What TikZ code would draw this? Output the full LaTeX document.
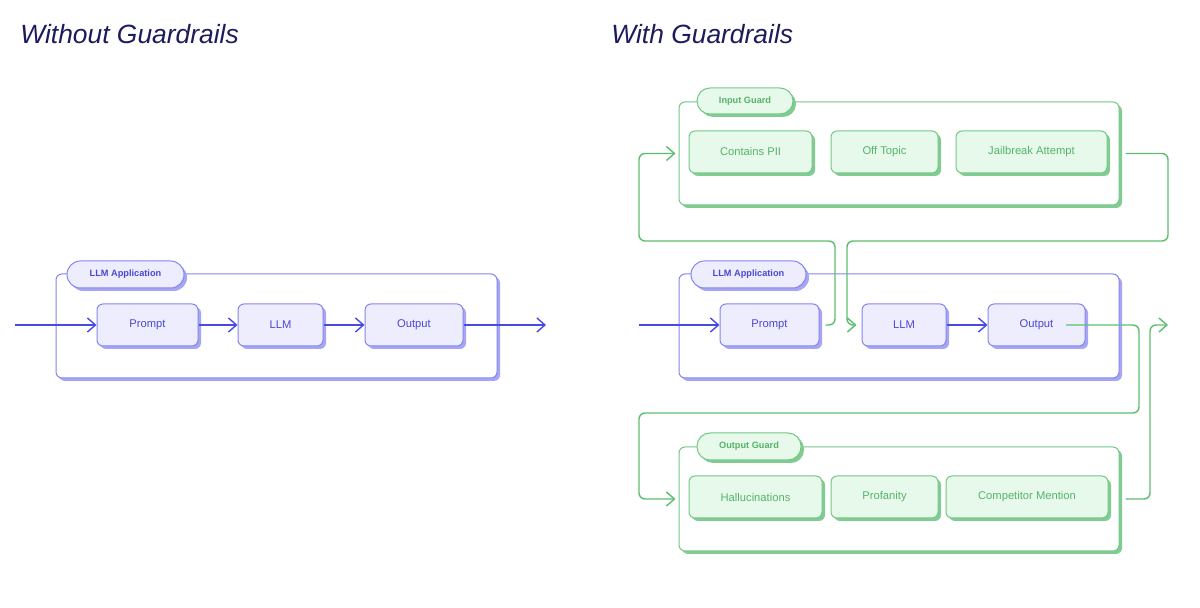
\documentclass[tikz,border=0pt]{standalone}
\usepackage{fontspec}
\setmainfont{Liberation Sans}
\usetikzlibrary{shadows,arrows.meta}
\definecolor{navy}{HTML}{1C1C5C}
\definecolor{pstroke}{HTML}{8585F0}
\definecolor{pfill}{HTML}{EDEDFD}
\definecolor{pshadow}{HTML}{A6A6F4}
\definecolor{ptext}{HTML}{4848D4}
\definecolor{parr}{HTML}{4A4AE2}
\definecolor{gstroke}{HTML}{74C886}
\definecolor{gfill}{HTML}{E6F9EA}
\definecolor{gshadow}{HTML}{82CC94}
\definecolor{gtext}{HTML}{55B46A}
\definecolor{garr}{HTML}{5EBE70}
\begin{document}
\begin{tikzpicture}[x=0.5pt,y=-0.5pt,
  title/.style={font=\fontsize{13.2}{15}\selectfont\itshape, text=navy, inner sep=0pt, anchor=base west},
  pshad/.style={general shadow={fill=pshadow, shadow xshift=1.5pt, shadow yshift=-1.5pt}},
  gshad/.style={general shadow={fill=gshadow, shadow xshift=1.5pt, shadow yshift=-1.5pt}},
  pcont/.style={draw=pstroke, fill=white, line width=0.5pt, rounded corners=3pt, inner sep=0pt, pshad},
  gcont/.style={draw=gstroke, fill=white, line width=0.5pt, rounded corners=3pt, inner sep=0pt, gshad},
  pbox/.style={draw=pstroke, fill=pfill, line width=0.5pt, rounded corners=3pt, inner sep=0pt, minimum height=21pt, text=ptext, font=\fontsize{5.6}{6.5}\selectfont, pshad},
  gbox/.style={draw=gstroke, fill=gfill, line width=0.5pt, rounded corners=3pt, inner sep=0pt, minimum height=21pt, text=gtext, font=\fontsize{5.6}{6.5}\selectfont, gshad},
  ppill/.style={draw=pstroke, fill=pfill, line width=0.5pt, rounded corners=6.7pt, inner sep=0pt, minimum height=13.5pt, text=ptext, font=\fontsize{4.6}{5.5}\selectfont\bfseries, pshad},
  gpill/.style={draw=gstroke, fill=gfill, line width=0.5pt, rounded corners=6.5pt, inner sep=0pt, minimum height=13pt, text=gtext, font=\fontsize{4.6}{5.5}\selectfont\bfseries, gshad},
  parrow/.style={draw=parr, line width=0.7pt, -{Straight Barb[length=4pt,width=7pt,line width=0.7pt]}},
  gline/.style={draw=garr, line width=0.7pt, rounded corners=3pt},
  garrow/.style={gline, -{Straight Barb[length=4pt,width=7pt,line width=0.7pt]}},
]
\useasboundingbox (0,0) rectangle (1200,608);
\fill[white] (0,0) rectangle (1200,608);

% titles
\node[title] (t1) at (20,44) {Without Guardrails};
\node[title] (t2) at (611,44) {With Guardrails};

% ---------- left: without guardrails ----------
\node[pcont, minimum width=220.5pt, minimum height=52pt] (appL) at (276.5,326) {};
\node[ppill, minimum width=58.5pt] (pillL) at (125.5,274.5) {LLM Application};
\node[pbox, minimum width=50.5pt] (promptL) at (147.5,325) {Prompt};
\node[pbox, minimum width=42.5pt] (llmL) at (280.5,325) {LLM};
\node[pbox, minimum width=49pt] (outL) at (414,325) {Output};
\coordinate (inL) at (15,325);
\coordinate (endL) at (546,325);
\draw[parrow] (inL) -- (promptL.west);
\draw[parrow] (promptL.east) -- (llmL.west);
\draw[parrow] (llmL.east) -- (outL.west);
\draw[parrow] (outL.east) -- (endL);

% ---------- right: with guardrails ----------
% input guard
\node[gcont, minimum width=220pt, minimum height=51.5pt] (ig) at (899,153.5) {};
\node[gpill, minimum width=48pt] (igpill) at (745,101) {Input Guard};
\node[gbox, minimum width=61.5pt] (pii) at (750.5,152) {Contains PII};
\node[gbox, minimum width=53.5pt] (topic) at (884.5,152) {Off Topic};
\node[gbox, minimum width=75.5pt] (jail) at (1031.5,152) {Jailbreak Attempt};

% llm application
\node[pcont, minimum width=220pt, minimum height=52pt] (appR) at (899,326) {};
\node[ppill, minimum width=57.5pt] (pillR) at (748.5,274.5) {LLM Application};
\node[pbox, minimum width=49.5pt] (promptR) at (769.5,325) {Prompt};
\node[pbox, minimum width=42pt] (llmR) at (904,325) {LLM};
\node[pbox, minimum width=48.5pt] (outR) at (1036.5,325) {Output};

% output guard
\node[gcont, minimum width=220pt, minimum height=52pt] (og) at (899,499) {};
\node[gpill, minimum width=52pt, minimum height=13.5pt] (ogpill) at (749,446.5) {Output Guard};
\node[gbox, minimum width=66.5pt] (hall) at (755.5,497) {Hallucinations};
\node[gbox, minimum width=53.5pt] (prof) at (884.5,497) {Profanity};
\node[gbox, minimum width=81pt] (comp) at (1027,497) {Competitor Mention};

\coordinate (inR) at (639,325);
\coordinate (ostart) at (1066,325);
\coordinate (endR) at (1168,325);

\draw[parrow] (inR) -- (promptR.west);
\draw[parrow] (llmR.east) -- (outR.west);

% green loops
\draw[garrow, shorten >=1.5pt, shorten <=3pt] (promptR.east) -| (835,241) -- (639,241) |- (ig.west);
\draw[garrow, shorten >=2.5pt, shorten <=3pt] (ig.east) -| (1168,241) -| (847,325) -- (llmR.west);
\draw[garrow, shorten >=1.5pt] (ostart) -| (1139,413) -- (639,413) |- (og.west);
\draw[garrow, shorten <=3pt] (og.east) -| (1150,325) -- (endR);
\end{tikzpicture}
\end{document}
